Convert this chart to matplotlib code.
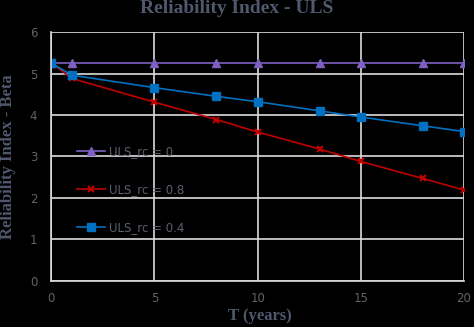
import numpy as np
import matplotlib
matplotlib.use('Agg')
import matplotlib.pyplot as plt

# 数据
t_years = [0, 1, 5, 8, 10, 13, 15, 18, 20]
uls_rc_0 = [5.25, 5.25, 5.25, 5.25, 5.25, 5.25, 5.25, 5.25, 5.25]
uls_rc_08 = [5.25, 4.88, 4.31, 3.89, 3.59, 3.18, 2.88, 2.47, 2.19]
uls_rc_04 = [5.25, 4.96, 4.66, 4.45, 4.32, 4.10, 3.95, 3.74, 3.60]

txt_color = '#5a606c'
title_color = '#4f586c'
grid_color = '#dcdcdc'

fig = plt.figure(figsize=(4.74, 3.27), dpi=100, facecolor='black')
ax = fig.add_axes([0.108, 0.141, 0.871, 0.761], facecolor='black')

ax.plot(t_years, uls_rc_0, color='#7f5fc0', marker='^', ms=6, lw=1.2, label='ULS_rc = 0')
ax.plot(t_years, uls_rc_08, color='#c00000', marker='x', ms=5, mew=1.5, lw=1.2, label='ULS_rc = 0.8')
ax.plot(t_years, uls_rc_04, color='#0070c0', marker='s', ms=6, lw=1.2, label='ULS_rc = 0.4')

ax.set_xlim(0, 20)
ax.set_ylim(0, 6)
ax.set_xticks([0, 5, 10, 15, 20])
ax.set_yticks([0, 1, 2, 3, 4, 5, 6])
ax.grid(True, color=grid_color, lw=1.2)
ax.set_axisbelow(True)
for s in ['top', 'right']:
    ax.spines[s].set_visible(False)
for s in ['left', 'bottom']:
    ax.spines[s].set_color(grid_color)
    ax.spines[s].set_linewidth(1.2)
ax.tick_params(length=0, colors='#626262', labelsize=8.5, pad=8)
ax.tick_params(axis='y', pad=10)

serif = {'family': 'Liberation Serif', 'weight': 'bold'}
fig.text(0.5, 0.975, 'Reliability Index - ULS', ha='center', va='center',
         fontsize=14, color=title_color, **serif)
ax.set_xlabel('T (years)', fontsize=12, color=title_color, **serif)
ax.xaxis.set_label_coords(0.505, -0.108)
ax.set_ylabel('Reliability Index - Beta', fontsize=12, labelpad=10, color=title_color, **serif)

leg = ax.legend(loc='upper left', bbox_to_anchor=(0.062, 0.545), frameon=False,
                fontsize=8.5, labelspacing=2.1, handlelength=2.4, handletextpad=0.3,
                borderpad=0, borderaxespad=0)
for t in leg.get_texts():
    t.set_color(txt_color)

fig.savefig('out.png', dpi=100, facecolor='black')
